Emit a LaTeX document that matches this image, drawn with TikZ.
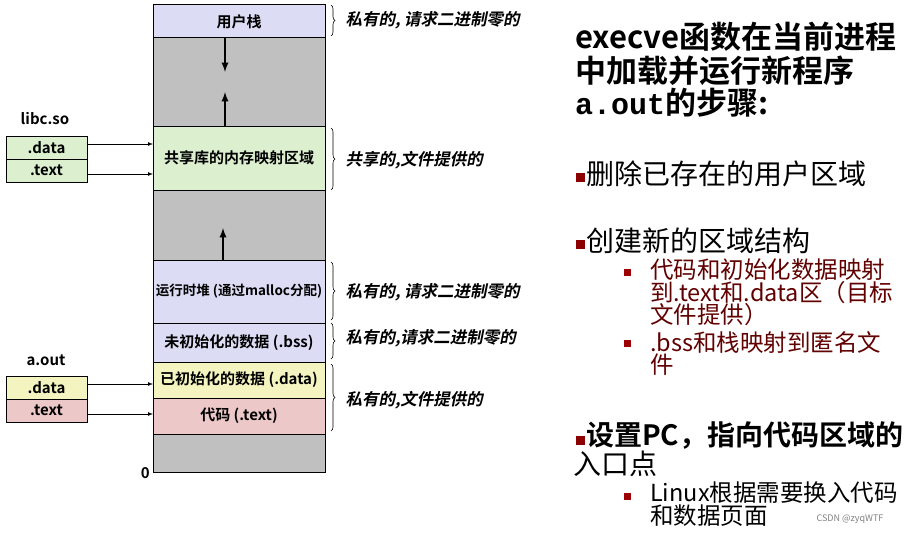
\documentclass[tikz,border=0pt]{standalone}
\usepackage{fontspec}
\setmainfont{Noto Sans CJK SC}[BoldFont={Noto Sans CJK SC Bold},ItalicFont={Noto Sans CJK SC},ItalicFeatures={FakeSlant=0.2},BoldItalicFont={Noto Sans CJK SC Bold},BoldItalicFeatures={FakeSlant=0.2}]
\newfontfamily\monob{Liberation Mono Bold}
\usetikzlibrary{decorations.pathreplacing}
\definecolor{lav}{HTML}{DCDCF4}
\definecolor{grn}{HTML}{DCF0D0}
\definecolor{yel}{HTML}{F4F4C0}
\definecolor{pnk}{HTML}{ECC8C8}
\definecolor{gry}{HTML}{C0C0C0}
\definecolor{bul}{HTML}{8B0000}
\begin{document}
\begin{tikzpicture}[x=1pt,y=-1pt,
  seg/.style={draw=black,line width=1pt},
  lbl/.style={font=\fontsize{15}{16}\selectfont\bfseries},
  note/.style={anchor=west,font=\fontsize{16.5}{17}\selectfont\bfseries\itshape},
  brc/.style={decorate,decoration={brace,amplitude=4pt},line width=0.6pt},
  arr/.style={-latex,line width=0.7pt},
  big/.style={-latex,line width=2.2pt},
  bul/.style={fill=bul,inner sep=0pt,minimum size=9pt},
  sbul/.style={fill=bul!85!red,inner sep=0pt,minimum size=7pt},
  h1/.style={anchor=north west,inner sep=0pt,font=\fontsize{31}{33}\selectfont\bfseries},
  h2/.style={anchor=west,inner sep=0pt,font=\fontsize{28}{30}\selectfont},
  h3/.style={anchor=north west,inner sep=0pt,align=left,text=bul!70!black,font=\fontsize{23.5}{22.5}\selectfont}]
\useasboundingbox (0,0) rectangle (913,535);
% column
\path[seg,fill=lav] (153,5) rectangle (325,38) node[midway,lbl] (us) {用户栈};
\path[seg,fill=gry] (153,38) rectangle (325,126) node[midway] (g1) {};
\path[seg,fill=grn] (153,126) rectangle (325,190) node[midway,lbl] (sh) {共享库的内存映射区域};
\path[seg,fill=gry] (153,190) rectangle (325,260) node[midway] (g2) {};
\path[seg,fill=lav] (153,260) rectangle (325,323) node[midway,lbl,font=\fontsize{13.5}{14}\selectfont\bfseries] (hp) {运行时堆 (通过malloc分配)};
\path[seg,fill=lav] (153,323) rectangle (325,362) node[midway,lbl] (bs) {未初始化的数据 (.bss)};
\path[seg,fill=yel] (153,362) rectangle (325,398) node[midway,lbl] (dt) {已初始化的数据 (.data)};
\path[seg,fill=pnk] (153,398) rectangle (325,434) node[midway,lbl] (tx) {代码 (.text)};
\path[seg,fill=gry] (153,434) rectangle (325,472) node[midway] (g3) {};
\node[lbl,anchor=south east,inner sep=1pt] (zero) at (151,480) {0};
\coordinate (a1s) at (225,38); \coordinate (a1e) at (225,72);
\coordinate (a2s) at (225,126); \coordinate (a2e) at (225,92);
\coordinate (a3s) at (223,260); \coordinate (a3e) at (223,228);
\draw[big] (a1s) -- (a1e);
\draw[big] (a2s) -- (a2e);
\draw[big] (a3s) -- (a3e);
% left boxes
\node[lbl] (libc) at (45,119) {libc.so};
\path[seg,fill=grn] (6,136) rectangle (87,159) node[midway,lbl] (ld) {.data};
\path[seg,fill=grn] (6,159) rectangle (87,182) node[midway,lbl] (lt) {.text};
\node[lbl] (aout) at (46,360) {a.out};
\path[seg,fill=yel] (6,376) rectangle (87,399) node[midway,lbl] (ad) {.data};
\path[seg,fill=pnk] (6,399) rectangle (87,422) node[midway,lbl] (at) {.text};
\coordinate (p1) at (87,144); \coordinate (q1) at (153,144);
\coordinate (p2) at (87,174); \coordinate (q2) at (153,174);
\coordinate (p3) at (87,384); \coordinate (q3) at (153,384);
\coordinate (p4) at (87,414); \coordinate (q4) at (153,414);
\draw[arr] (p1) -- (q1); \draw[arr] (p2) -- (q2);
\draw[arr] (p3) -- (q3); \draw[arr] (p4) -- (q4);
% braces
\draw[brc] (331,5) -- (331,36);
\draw[brc] (331,128) -- (331,190);
\draw[brc] (331,262) -- (331,320);
\draw[brc] (331,323) -- (331,359);
\draw[brc] (331,364) -- (331,431);
\node[note] (n1) at (342,20) {私有的, 请求二进制零的};
\node[note] (n2) at (342,160) {共享的,文件提供的};
\node[note] (n3) at (342,292) {私有的, 请求二进制零的};
\node[note] (n4) at (342,338) {私有的,请求二进制零的};
\node[note] (n5) at (342,400) {私有的,文件提供的};
% right text
\node[h1] (t1) at (575,22) {execve函数在当前进程};
\node[h1] (t2) at (575,56) {中加载并运行新程序};
\node[h1] (t3) at (575,88) {{\monob\fontsize{30}{32}\selectfont a.out}的步骤:};
\node[bul] (b1) at (580,177) {}; \node[h2] (s1) at (586,174) {删除已存在的用户区域};
\node[bul] (b2) at (580,244) {}; \node[h2] (s2) at (586,241) {创建新的区域结构};
\node[sbul] (c1) at (627,272) {};
\node[h3] (u1) at (650,259) {代码和初始化数据映射\\到.text和.data区（目标\\文件提供）};
\node[sbul] (c2) at (627,343) {};
\node[h3] (u2) at (650,331) {.bss和栈映射到匿名文\\件};
\node[bul] (b3) at (580,440) {};
\node[h2,font=\fontsize{28}{30}\selectfont\bfseries] (s3) at (586,436) {设置PC，指向代码区域的};
\node[h2] (s4) at (573,464) {入口点};
\node[sbul] (c3) at (627,496) {};
\node[h3,text=black] (u3) at (650,482) {Linux根据需要换入代码\\和数据页面};
\node[anchor=west,text=gray,font=\fontsize{9}{10}\selectfont] (wm) at (813,519) {CSDN @zyqWTF};
\end{tikzpicture}
\end{document}
